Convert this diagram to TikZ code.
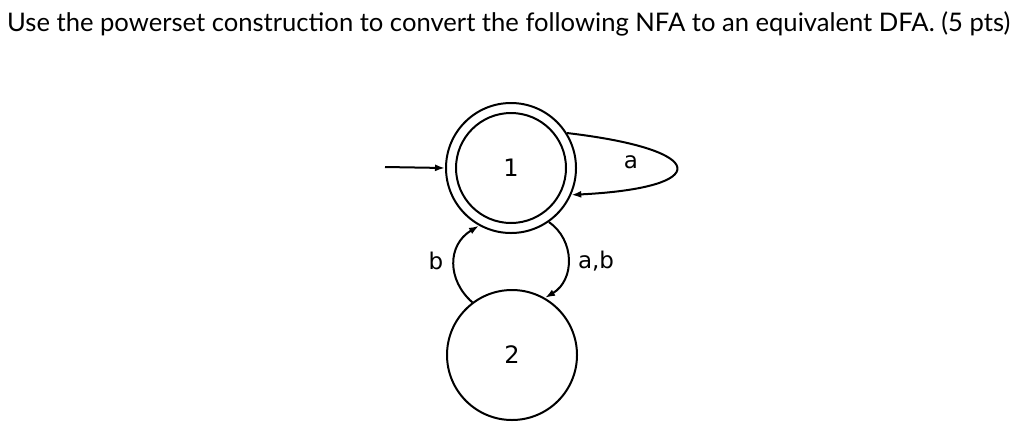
\documentclass[tikz,border=0pt]{standalone}
\usepackage{fontspec}
\setmainfont{Lato}
\newfontfamily\dejavu{DejaVu Sans}
\usetikzlibrary{arrows.meta}
\begin{document}
\begin{tikzpicture}[x=1pt,y=-1pt,
  state/.style={circle,draw,line width=2pt,minimum size=130pt,inner sep=0pt,font=\dejavu\fontsize{24}{24}\selectfont},
  inner/.style={circle,draw,line width=2pt,minimum size=110pt,inner sep=0pt},
  edge/.style={line width=2pt,-{Latex[length=10pt,width=7pt]}},
  lbl/.style={font=\dejavu\fontsize{23}{23}\selectfont,inner sep=0pt}]
\useasboundingbox (0,0) rectangle (1024,432);
\node[anchor=base west,inner sep=0pt,font=\fontsize{25.6}{26}\selectfont] (title) at (7,31) {Use the powerset construction to convert the following NFA to an equivalent DFA. (5 pts)};
\node[state] (s1) at (511,168) {1};
\node[inner] (s1in) at (511,168) {};
\node[state] (s2) at (512,355) {2};
\coordinate (start) at (385,167);
\draw[edge] (start) -- (s1.180);
\draw[edge] (s1.32) .. controls (712,150) and (712,188) .. (s1.-24);
\draw[edge] (s1.-55) .. controls (575,240) and (575,280) .. (s2.60);
\draw[edge] (s2.127) .. controls (447,280) and (447,245) .. (s1.-119);
\node[lbl] (la) at (631,162) {a};
\node[lbl] (lab) at (596,261) {a,b};
\node[lbl] (lb) at (436,261) {b};
\end{tikzpicture}
\end{document}
